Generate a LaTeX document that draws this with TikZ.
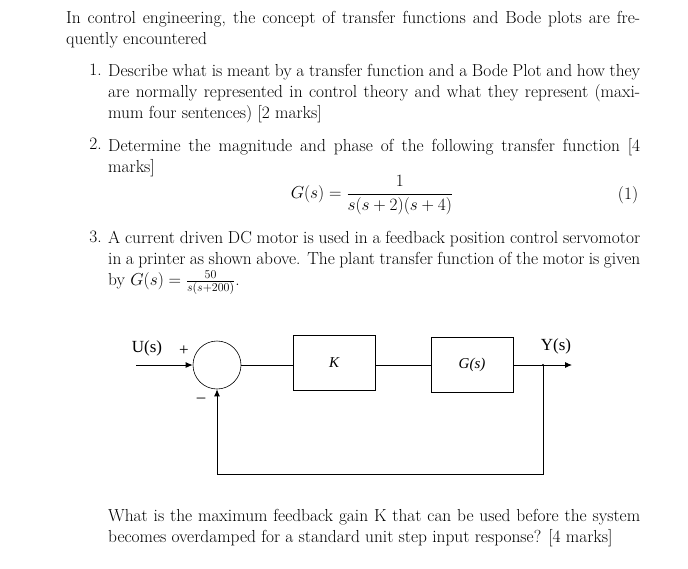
\documentclass[tikz,border=0pt]{standalone}
\usepackage{fontspec}
\usetikzlibrary{arrows.meta}
\newfontfamily\diagfont{Liberation Serif}
\begin{document}
\begin{tikzpicture}[x=1pt,y=-1pt,
  para/.style={anchor=north west,inner sep=0pt,align=justify,font=\fontsize{17.4}{21}\selectfont},
  blk/.style={draw,line width=0.7pt,minimum width=82pt,minimum height=55pt,inner sep=0pt},
  ln/.style={line width=0.9pt},
  lab/.style={font=\diagfont\fontsize{17}{19}\selectfont},
  arr/.style={ln,-{Latex[length=7pt,width=6pt]}}]
\useasboundingbox (0,0) rectangle (688,568);
\node[para,text width=574pt] (p0) at (66,11) {In control engineering, the concept of transfer functions and Bode plots are frequently encountered};
\node[para,anchor=north east] (n1) at (102,64) {1.};
\node[para,text width=532pt] (t1) at (108,64) {Describe what is meant by a transfer function and a Bode Plot and how they are normally represented in control theory and what they represent (maximum four sentences) [2 marks]};
\node[para,anchor=north east] (n2) at (102,138) {2.};
\node[para,text width=532pt] (t2) at (108,138) {Determine the magnitude and phase of the following transfer function [4 marks]};
\node[font=\fontsize{17.4}{21}\selectfont,inner sep=0pt] (eq) at (372,195) {$\displaystyle G(s)=\frac{1}{s(s+2)(s+4)}$};
\node[font=\fontsize{17.4}{21}\selectfont,inner sep=0pt] (eqn) at (628,195) {(1)};
\node[para,anchor=north east] (n3) at (102,231) {3.};
\node[para,text width=532pt] (t3) at (108,231) {A current driven DC motor is used in a feedback position control servomotor in a printer as shown above. The plant transfer function of the motor is given by $G(s)=\frac{50}{s(s+200)}$.};
\node[para,text width=532pt] (t4) at (108,509) {What is the maximum feedback gain K that can be used before the system becomes overdamped for a standard unit step input response? [4 marks]};
% block diagram
\node[draw,circle,line width=0.6pt,minimum size=48pt,inner sep=0pt] (sum) at (217,365) {};
\node[blk] (K) at (334,363) {\diagfont\fontsize{15}{17}\selectfont\itshape K};
\node[blk] (G) at (472,365) {\diagfont\fontsize{15}{17}\selectfont\itshape G(s)};
\coordinate (in) at (136,365);
\coordinate (tap) at (543,365);
\coordinate (out) at (572,365);
\coordinate (bl) at (217,474);
\coordinate (br) at (543,474);
\draw[arr] (in) -- (sum.west);
\draw[ln] (sum.east) -- (sum.east -| K.west);
\draw[ln] (K.east |- G.west) -- (G.west);
\draw[arr] (G.east) -- (out);
\draw[arr] (tap) -- (br) -- (bl) -- (sum.south);
\fill (tap) circle (1.2pt);
\node[lab] (U) at (147,348) {U(s)};
\node[lab] (pl) at (184,351) {+};
\node[lab] (mi) at (201,400) {–};
\node[lab] (Y) at (556,346) {Y(s)};
\end{tikzpicture}
\end{document}
